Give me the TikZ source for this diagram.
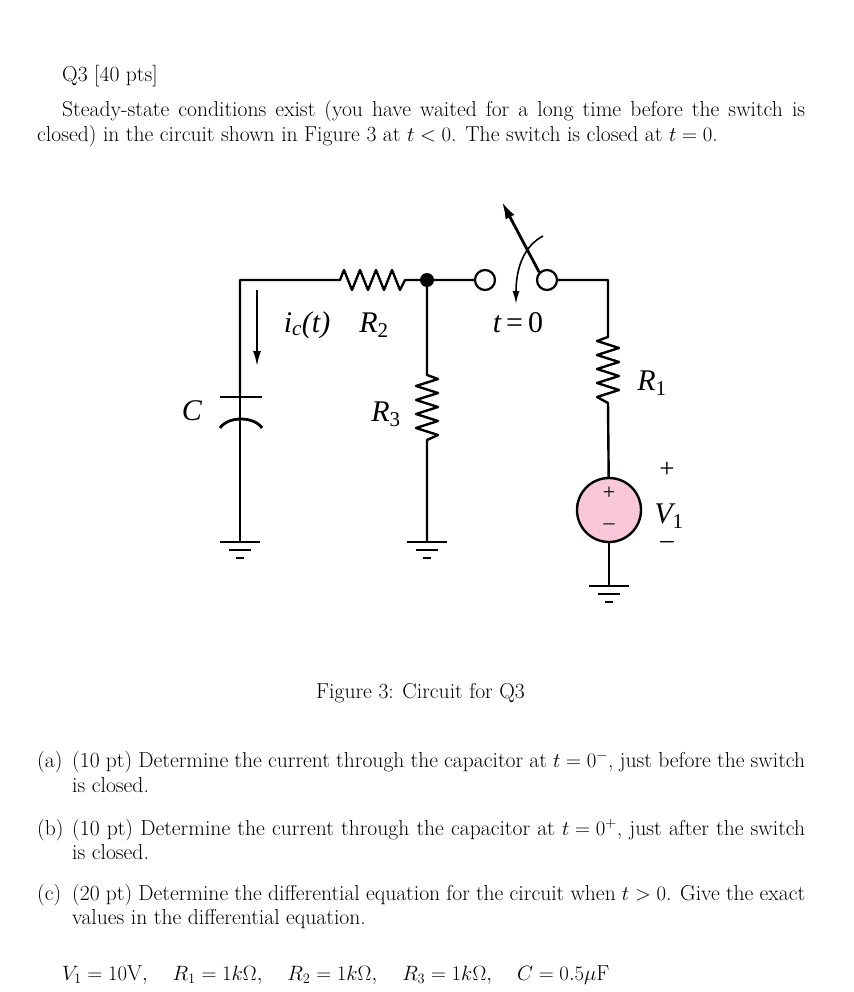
\documentclass[tikz,border=0pt]{standalone}
\usepackage{fontspec}
\newfontfamily\cfont{Liberation Serif}
\usetikzlibrary{arrows.meta}
\thickmuskip=5mu
\medmuskip=4mu
\tikzset{wire/.style={line width=2.4pt,line cap=round,line join=round},
 txt/.style={anchor=base west,inner sep=0pt,font=\fontsize{21.6}{25}\selectfont},
 clab/.style={inner sep=0pt,font=\fontsize{30}{32}\selectfont\cfont\itshape},
 term/.style={circle,draw,line width=2.2pt,fill=white,minimum size=20pt,inner sep=0pt},
 gndl/.style={line width=2.6pt}}
\newcommand{\gnd}[2]{\draw[gndl] (#1-20,#2)--(#1+20,#2); \draw[gndl] (#1-11,#2+8)--(#1+11,#2+8); \draw[gndl] (#1-4,#2+16)--(#1+4,#2+16);}
\newcommand{\sub}[1]{\textsubscript{\upshape #1}}
\begin{document}
\begin{tikzpicture}[x=1pt,y=-1pt]
\useasboundingbox (0,0) rectangle (853,992);
% text
\node[txt] (q) at (62,82) {Q3 [40 pts]};
\node[txt] (l1) at (62,117) {\makebox[743pt][s]{Steady-state conditions exist (you have waited for a long time before the switch is}};
\node[txt] (l2) at (37,142) {closed) in the circuit shown in Figure 3 at $t<0$. The switch is closed at $t=0$.};
\node[txt] (cap) at (316,698) {Figure 3: Circuit for Q3};
\node[txt] (a) at (37,767) {(a)};
\node[txt] (a1) at (72,767) {\makebox[733pt][s]{(10 pt) Determine the current through the capacitor at $t=0^-$, just before the switch}};
\node[txt] (a2) at (72,792) {is closed.};
\node[txt] (b) at (37,835) {(b)};
\node[txt] (b1) at (72,835) {\makebox[733pt][s]{(10 pt) Determine the current through the capacitor at $t=0^+$, just after the switch}};
\node[txt] (b2) at (72,859) {is closed.};
\node[txt] (c) at (37,900) {(c)};
\node[txt] (c1) at (72,900) {\makebox[733pt][s]{(20 pt) Determine the differential equation for the circuit when $t>0$. Give the exact}};
\node[txt] (c2) at (72,924) {values in the differential equation.};
\node[txt] (v) at (62,980) {$V_1=10\mathrm{V},\quad R_1=1k\Omega,\quad R_2=1k\Omega,\quad R_3=1k\Omega,\quad C=0.5\mu\mathrm{F}$};
% circuit coordinates
\coordinate (tl) at (240,280);
\coordinate (j) at (427,280);
\coordinate (tr) at (608,280);
\node[term] (s1) at (485,280) {};
\node[term] (s2) at (547,280) {};
\node[circle,draw,line width=2.4pt,fill={rgb,255:red,248;green,200;blue,218},minimum size=64pt,inner sep=0pt] (src) at (609,510) {};
% top wire with R2
\draw[wire] (240,420)--(240,397);
\draw[wire] (240,397)--(tl)--(340,280)--(344,270)--(352,290)--(360,270)--(368,290)--(376,270)--(384,290)--(392,270)--(400,290)--(405,280)--(j)--(s1);
\draw[wire] (s2)--(tr)--(608,337)--(597,341)--(619,348)--(597,355)--(619,362)--(597,369)--(619,376)--(597,383)--(619,390)--(597,397)--(608,403)--(src);
\draw[wire] (src)--(609,586);
\gnd{609}{586}
% R3
\draw[wire] (j)--(427,375)--(438,379)--(416,386)--(438,393)--(416,400)--(438,407)--(416,414)--(438,421)--(416,428)--(438,435)--(427,440)--(427,542);
\gnd{427}{542}
\fill (j) circle (7pt);
% capacitor
\draw[line width=2.8pt] (220,397)--(262,397);
\draw[line width=2.8pt] (220,428) .. controls (228,416) and (254,416) .. (262,428);
\draw[wire] (240,418)--(240,542);
\gnd{240}{542}
% current arrow
\coordinate (ia) at (257,290);
\coordinate (ib) at (257,366);
\draw[line width=1.8pt,-{Latex[length=15pt,width=8pt]}] (ia)--(ib);
% switch
\coordinate (sw) at (502,202);
\draw[line width=2.8pt,-{Latex[length=17pt,width=10pt]}] (s2.north west)--(sw);
\coordinate (ca) at (543,236);
\coordinate (cb) at (516,304);
\draw[line width=1.6pt,-{Latex[length=13pt,width=7pt]}] (ca) .. controls (524,246) and (516,268) .. (cb);
% labels
\node[clab] (lc) at (192,411) {C};
\node[clab,anchor=base] (li) at (307,332) {i\textsubscript{c}(t)};
\node[clab,anchor=base] (l2r) at (374,332) {R\sub{2}};
\node[clab,anchor=base] (l3r) at (386,421) {R\sub{3}};
\node[clab,anchor=base] (l1r) at (652,390) {R\sub{1}};
\node[clab,anchor=base] (lt) at (518,332) {t\,{\upshape =}\,{\upshape 0}};
\node[clab,anchor=base,font=\fontsize{27}{30}\selectfont\cfont] (vp) at (667,477) {+};
\node[clab,anchor=base] (lv) at (669,523) {V\sub{1}};
\node[clab,anchor=base,font=\fontsize{27}{30}\selectfont\cfont] (vm) at (667,548) {\textendash};
\node[font=\fontsize{22}{24}\selectfont\cfont,inner sep=0pt] (ip) at (609,493) {+};
\node[font=\fontsize{22}{24}\selectfont\cfont,inner sep=0pt] (im) at (609,527) {\textendash};
\end{tikzpicture}
\end{document}
